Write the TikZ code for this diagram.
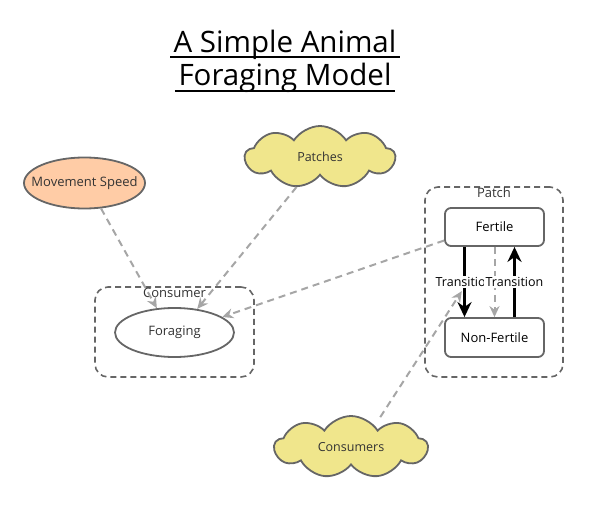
\documentclass[tikz,border=0pt]{standalone}
\usepackage{fontspec}
\setmainfont{Open Sans}
\usetikzlibrary{shapes.geometric,shapes.symbols,arrows.meta}
\definecolor{borda}{HTML}{666666}
\definecolor{cinza}{HTML}{A6A6A6}
\definecolor{pessego}{HTML}{FFCCA6}
\definecolor{caqui}{HTML}{F0E68C}
\tikzset{
  grupo/.style={draw=borda, line width=1.6pt, dash pattern=on 6pt off 4pt, rounded corners=13pt},
  estado/.style={draw=borda, line width=1.8pt, rounded corners=6pt, fill=white, font=\fontsize{13}{15}\selectfont},
  nuvem/.style={cloud, cloud puffs=9, cloud puff arc=115, aspect=2.3, draw=borda, line width=1.8pt, fill=caqui,
    minimum width=150, minimum height=62, font=\fontsize{12.5}{15}\selectfont, text=black!80},
  elipse/.style={ellipse, draw=borda, line width=1.8pt, inner sep=0pt, font=\fontsize{13}{15}\selectfont, text=black!80},
  seta/.style={draw=cinza, line width=2pt, dash pattern=on 7pt off 5pt, -{Stealth[length=11pt,width=10pt]}},
  trans/.style={draw=black, line width=3.8pt, -{Stealth[length=15pt,width=14pt]}},
  rotulo/.style={fill=white, inner sep=1pt, font=\fontsize{12.5}{15}\selectfont},
  titgrupo/.style={anchor=north, inner sep=1.5pt, font=\fontsize{13}{15}\selectfont, text=black!80}
}
\begin{document}
\begin{tikzpicture}[x=1pt, y=-1pt]
  \useasboundingbox (0,0) rectangle (590,511);
  % titulo
  \node[anchor=base, font=\fontsize{29.5}{32}\selectfont] (tit1) at (285,53) {A Simple Animal};
  \node[anchor=base, font=\fontsize{29.5}{32}\selectfont] (tit2) at (285,86) {Foraging Model};
  \draw[line width=1.8pt] ([yshift=-4]tit1.base west) -- ([yshift=-4]tit1.base east);
  \draw[line width=1.8pt] ([yshift=-5]tit2.base west) -- ([yshift=-5]tit2.base east);
  % grupos
  \node[grupo, minimum width=159, minimum height=90] (consumer) at (174.5,332) {};
  \node[titgrupo] at (consumer.north) {Consumer};
  \node[grupo, minimum width=138, minimum height=190] (patch) at (494,282) {};
  \node[titgrupo] at (patch.north) {Patch};
  % nos
  \node[elipse, fill=pessego, minimum width=121, minimum height=51] (mov) at (84.5,183) {\makebox[0pt]{Movement Speed}};
  \node[elipse, fill=white, minimum width=119, minimum height=49] (forag) at (174.5,332.5) {\makebox[0pt]{Foraging}};
  \node[nuvem] (patches) at (320,157) {Patches};
  \node[nuvem, minimum width=153] (consumers) at (351,447) {Consumers};
  \node[estado, minimum width=99, minimum height=38] (fert) at (494.5,227) {Fertile};
  \node[estado, minimum width=99, minimum height=39] (nfert) at (494.5,337.5) {Non-Fertile};
  % transicoes
  \draw[trans] ([xshift=-30]fert.south) -- coordinate[pos=0.57] (meio) node[midway, rotulo] {Transition} ([xshift=-30]nfert.north);
  \draw[seta] (fert.south) -- (nfert.north);
  \draw[trans] ([xshift=20]nfert.north) -- node[midway, rotulo, inner xsep=2pt] {Transition} ([xshift=20]fert.south);
  % influencias
  \draw[seta] (mov.-57) -- (forag.126);
  \draw[seta] (patches.-128) -- (forag.46);
  \draw[seta] (fert.195) -- (forag.18);
  \draw[seta, shorten <=10pt, shorten >=5pt] (consumers.42) -- (meio);
\end{tikzpicture}
\end{document}
